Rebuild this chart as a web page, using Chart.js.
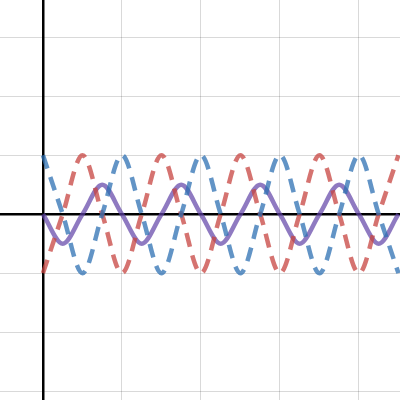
<!DOCTYPE html>
<html><head><style>html,body{margin:0;padding:0;background:#fff}</style>
<script src="https://cdn.jsdelivr.net/npm/chart.js@4"></script></head>
<body><canvas id="c" width="400" height="400"></canvas>
<script>
const xs = [0,0.25,0.5,0.75,1,1.25,1.5,1.75,2,2.25,2.5,2.75,3,3.25,3.5,3.75,4,4.25,4.5];
const blueVals = [1,0,-1,0,1,0,-1,0,1,0,-1,0,1,0,-1,0,1,0,-1];
const redVals = [-1,0,1,0,-1,0,1,0,-1,0,1,0,-1,0,1,0,-1,0,1];
const purpleVals = [0,-0.5,0,0.5,0,-0.5,0,0.5,0,-0.5,0,0.5,0,-0.5,0,0.5,0,-0.5,0];
const xTicks = [0,1,2,3,4];
const yTicks = [-3,-2,-1,0,1,2,3];
const pts = v => xs.map((x,i)=>({x:x,y:v[i]}));
const ds = (v,col,dash)=>({data:pts(v),borderColor:col,borderWidth:4.5,borderDash:dash,pointRadius:0,cubicInterpolationMode:'monotone',fill:false});
const gridCol = c => c.tick && c.tick.value===0 ? '#000' : 'rgba(0,0,0,0.15)';
const gridW = c => c.tick && c.tick.value===0 ? 2.5 : 1;
new Chart(document.getElementById('c'),{type:'line',
data:{datasets:[ds(blueVals,'rgba(45,112,179,0.75)',[14,9]),ds(redVals,'rgba(199,68,64,0.75)',[14,9]),ds(purpleVals,'rgba(96,66,166,0.7)',[])]},
options:{responsive:false,animation:false,layout:{padding:0},plugins:{legend:{display:false},tooltip:{enabled:false}},
scales:{
x:{type:'linear',min:-0.544,max:4.52,afterBuildTicks:a=>{a.ticks=xTicks.map(v=>({value:v}))},ticks:{display:false},grid:{color:gridCol,lineWidth:gridW,drawTicks:false},border:{display:false}},
y:{type:'linear',min:-3.15,max:3.63,afterBuildTicks:a=>{a.ticks=yTicks.map(v=>({value:v}))},ticks:{display:false},grid:{color:gridCol,lineWidth:gridW,drawTicks:false},border:{display:false}}
}}});
</script></body></html>
